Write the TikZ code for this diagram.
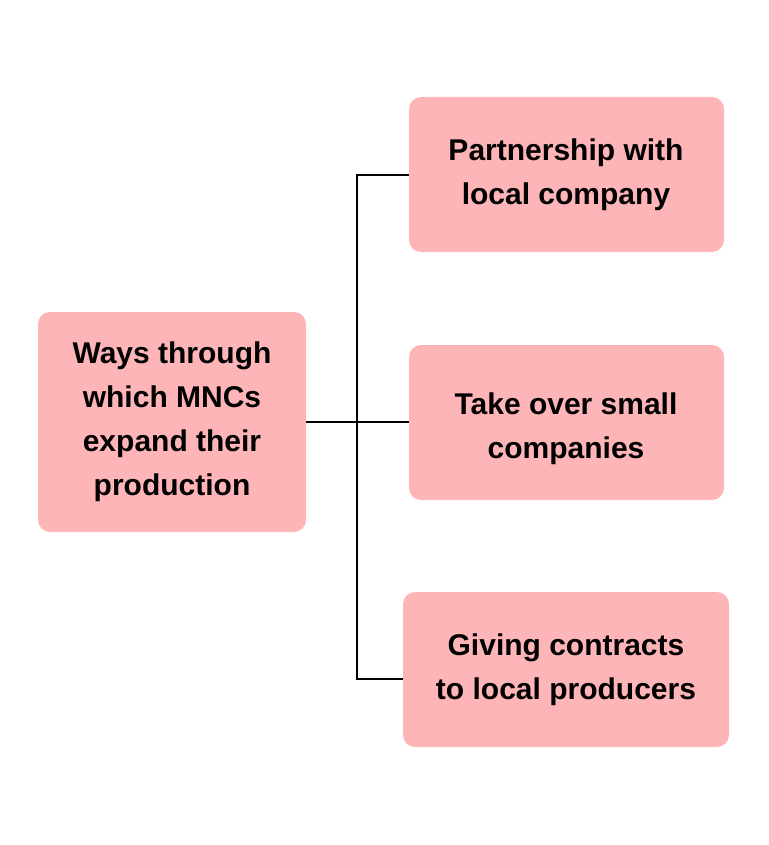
\documentclass[tikz,border=0pt]{standalone}
\usepackage{fontspec}
\setmainfont{Liberation Sans}
\begin{document}
\begin{tikzpicture}[x=1pt,y=-1pt,
  box/.style={fill=boxpink,rounded corners=12pt,draw=none,align=center,font=\fontsize{30}{44}\selectfont\bfseries,inner sep=0pt},
  conn/.style={line width=2.5pt,black}]
\definecolor{boxpink}{HTML}{FDB5B8}
\useasboundingbox (0,0) rectangle (768,845);
\path[box] (38,312) rectangle (306,532);
\node[box,fill=none] (a) at (172,422) {Ways through\\which MNCs\\expand their\\production};
\path[box] (409,97) rectangle (724,252);
\node[box,fill=none] (b) at (566,175) {Partnership with\\local company};
\path[box] (409,345) rectangle (724,500);
\node[box,fill=none] (c) at (566,429) {Take over small\\companies};
\path[box] (403,592) rectangle (729,747);
\node[box,fill=none] (d) at (566,670) {Giving contracts\\to local producers};
\coordinate (al) at (306,422);
\coordinate (j) at (357,422);
\coordinate (bl) at (409,175);
\coordinate (cl) at (409,422);
\coordinate (dl) at (403,679);
\draw[conn] (al) -- (cl);
\draw[conn] (bl) -| (j) |- (dl);
\end{tikzpicture}
\end{document}
